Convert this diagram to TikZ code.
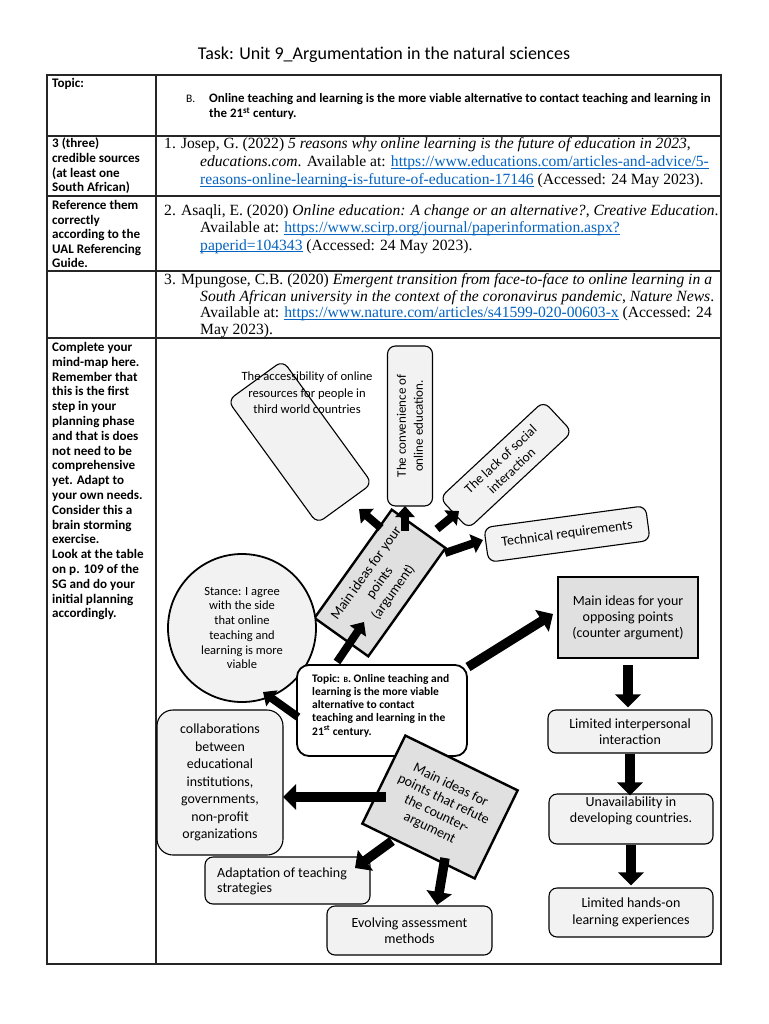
\documentclass[tikz,border=0pt]{standalone}
\usepackage{fontspec}
\setmainfont{Carlito}
\newfontfamily\tnr{Liberation Serif}
\usetikzlibrary{arrows.meta,calc}
\definecolor{lightfill}{HTML}{F2F2F2}
\definecolor{midfill}{HTML}{E0E0E0}
\definecolor{linkblue}{HTML}{0563C1}
\newcommand\lnk[1]{\textcolor{linkblue}{\setbox0\hbox{#1}\rlap{\rule[-1.9pt]{\wd0}{0.7pt}}\box0}}
\newcommand\reff{\tnr\fontsize{15.6}{18}\selectfont}
\newcommand\tl[1]{\begin{tabular}[t]{@{}l@{}}#1\end{tabular}}
\begin{document}
\begin{tikzpicture}[x=1pt,y=-1pt,
 lbox/.style={draw=black, fill=lightfill, line width=1.1pt, rounded corners=8pt, inner sep=0pt, align=center, font=\fontsize{14}{16}\selectfont},
 mbox/.style={draw=black, fill=midfill, line width=2.4pt, inner sep=0pt, align=center, font=\fontsize{14}{16.5}\selectfont},
 txt/.style={inner sep=0pt, align=center},
 ltxt/.style={inner sep=0pt, anchor=base west},
 blk/.style={line width=9.5pt, -{Triangle[width=25pt,length=13pt]}},
 blks/.style={line width=8pt, -{Triangle[width=19pt,length=11pt]}},
 tline/.style={line width=1.2pt, draw=black!85},
 colhead/.style={inner sep=0pt, anchor=base west, font=\bfseries\fontsize{13.1}{14.8}\selectfont},
 refl/.style={inner sep=0pt, anchor=base west, font=\reff}]
\useasboundingbox (0,0) rectangle (768,1024);
\fill[white] (0,0) rectangle (768,1024);
% title
\node[txt, anchor=base, font=\fontsize{18}{21}\selectfont] (title) at (384,60) {Task: Unit 9\_Argumentation in the natural sciences};
% table
\draw[tline] (47,75) rectangle (721,964);
\draw[tline] (156,75) -- (156,964);
\foreach \yy in {136,196,271,338} \draw[tline] (47,\yy) -- (721,\yy);
% left column
\node[colhead] (h1) at (52,88) {Topic:};
\node[colhead] (h2) at (52,147.5) {\tl{3 (three)\\credible sources\\(at least one\\South African)}};
\node[colhead, font=\bfseries\fontsize{13.1}{14.6}\selectfont] (h3) at (52,209.5) {\tl{Reference them\\correctly\\according to the\\UAL Referencing\\Guide.}};
\node[colhead] (h4) at (52,351.5) {\tl{Complete your\\mind-map here.\\Remember that\\this is the first\\step in your\\planning phase\\and that is does\\not need to be\\comprehensive\\yet. Adapt to\\your own needs.\\Consider this a\\brain storming\\exercise.\\Look at the table\\on p. 109 of the\\SG and do your\\initial planning\\accordingly.}};
% topic row
\node[ltxt, font=\fontsize{11.5}{15}\selectfont] (tb) at (186,103) {B.};
\node[ltxt, font=\bfseries\fontsize{12.9}{15}\selectfont] (tt) at (209,103) {\tl{Online teaching and learning is the more viable alternative to contact teaching and learning in\\the 21\textsuperscript{st} century.}};
% references
\node[refl] (r1a) at (164,149) {1. Josep, G. (2022) \textit{5 reasons why online learning is the future of education in 2023},};
\node[refl] (r1b) at (200,167) {\textit{educations.com}. Available at: \lnk{https://www.educations.com/articles-and-advice/5-}};
\node[refl] (r1c) at (200,185) {\lnk{reasons-online-learning-is-future-of-education-17146} (Accessed: 24 May 2023).};
\node[refl] (r2a) at (164,216) {2. Asaqli, E. (2020) \textit{Online education: A change or an alternative?}, \textit{Creative Education}.};
\node[refl] (r2b) at (200,233) {Available at: \lnk{https://www.scirp.org/journal/paperinformation.aspx?}};
\node[refl] (r2c) at (200,250) {\lnk{paperid=104343} (Accessed: 24 May 2023).};
\node[refl] (r3a) at (164,284.5) {3. Mpungose, C.B. (2020) \textit{Emergent transition from face-to-face to online learning in a}};
\node[refl] (r3b) at (200,301) {\textit{South African university in the context of the coronavirus pandemic}, \textit{Nature News}.};
\node[refl] (r3c) at (200,317.5) {Available at: \lnk{https://www.nature.com/articles/s41599-020-00603-x} (Accessed: 24};
\node[refl] (r3d) at (200,334) {May 2023).};
% ---------------- mind map
\node[lbox, rotate=36, minimum width=68pt, minimum height=152pt] (acc) at (300,442) {};
\node[txt, font=\fontsize{12.6}{16.5}\selectfont] (acct) at (307,393) {The accessibility of online\\resources for people in\\third world countries};
\node[lbox, rotate=90, minimum width=160pt, minimum height=45pt, font=\fontsize{13}{17}\selectfont] (conv) at (410,426) {The convenience of\\online education.};
\node[lbox, rotate=43, minimum width=142pt, minimum height=42pt, font=\fontsize{13.5}{16}\selectfont] (lack) at (506,465) {The lack of social\\interaction};
\node[lbox, rotate=7.7, minimum width=163pt, minimum height=35pt] (tech) at (567,534) {Technical requirements};
\node[mbox, rotate=54.5, minimum width=133pt, minimum height=66pt] (arg) at (380,583) {Main ideas for your\\points\\(argument)};
\node[draw=black, fill=lightfill, line width=1.8pt, circle, minimum size=148pt, inner sep=0pt, align=center, font=\fontsize{12.5}{14.7}\selectfont] (stance) at (242,628) {Stance: I agree\\with the side\\that online\\teaching and\\learning is more\\viable};
\node[draw=black, fill=white, line width=1.8pt, rounded corners=12pt, minimum width=170pt, minimum height=91pt, inner sep=0pt] (topic) at (382,710.5) {};
\node[ltxt, font=\bfseries\fontsize{11.5}{13.3}\selectfont] (topict) at (312,682) {\tl{Topic: {\fontsize{8}{9}\selectfont B}. Online teaching and\\learning is the more viable\\alternative to contact\\teaching and learning in the\\21\textsuperscript{st} century.}};
\node[mbox, line width=2.6pt, minimum width=140pt, minimum height=81pt, font=\fontsize{14}{16}\selectfont] (cnt) at (628,617.5) {Main ideas for your\\opposing points\\(counter argument)};
\node[lbox, minimum width=164pt, minimum height=43pt] (lii) at (630,731.5) {Limited interpersonal\\interaction};
\node[lbox, minimum width=164pt, minimum height=50pt] (unav) at (631,819) {};
\node[txt, font=\fontsize{14}{16}\selectfont] (unavt) at (631,811) {Unavailability in\\developing countries.};
\node[lbox, minimum width=164pt, minimum height=49pt, font=\fontsize{14}{17}\selectfont] (lho) at (631,912.5) {Limited hands-on\\learning experiences};
\node[mbox, rotate=-26, minimum width=125pt, minimum height=98pt, font=\fontsize{14}{16}\selectfont] (ref) at (440,807) {Main ideas for\\points that refute\\the counter-\\argument};
\node[lbox, rounded corners=16pt, minimum width=126pt, minimum height=145pt, font=\fontsize{13.9}{17.5}\selectfont] (col) at (220,782.5) {collaborations\\between\\educational\\institutions,\\governments,\\non-profit\\organizations};
\node[lbox, minimum width=165pt, minimum height=47pt] (adp) at (287.5,880.5) {};
\node[ltxt, font=\fontsize{14}{15.6}\selectfont] (adpt) at (217,877) {\tl{Adaptation of teaching\\strategies}};
\node[lbox, minimum width=165pt, minimum height=49pt] (evo) at (409.5,930.5) {Evolving assessment\\methods};
% arrow end points
\coordinate (topicA) at (298,717); \coordinate (stanceA) at (263,692);
\coordinate (topicB) at (337,662); \coordinate (argA) at (364,622);
\coordinate (topicC) at (468,667); \coordinate (cntA) at (553,614);
\coordinate (argD) at (381,528); \coordinate (accA) at (359,509);
\coordinate (argE) at (405,531); \coordinate (convA) at (405,506);
\coordinate (argF) at (437,529); \coordinate (lackA) at (459,511);
\coordinate (argG) at (445,553); \coordinate (techA) at (483,540);
\coordinate (refH) at (386,797); \coordinate (colA) at (283,797);
\coordinate (refI) at (392,841); \coordinate (adpA) at (355,868);
\coordinate (refJ) at (445,858); \coordinate (evoA) at (437,905);
\draw[blks] (topicA) -- (stanceA);
\draw[blks] (topicB) -- (argA);
\draw[blk] (topicC) -- (cntA);
\draw[blks] (argD) -- (accA);
\draw[blks] (argE) -- (convA);
\draw[blks] (argF) -- (lackA);
\draw[blks] (argG) -- (techA);
\draw[blk] (refH) -- (colA);
\draw[blk] (refI) -- (adpA);
\draw[blk] (refJ) -- (evoA);
\draw[blk, shorten <=6pt, shorten >=2pt] (cnt.south) -- (cnt.south |- lii.north);
\draw[blk, shorten >=-2pt] (lii.south) -- (lii.south |- unav.north);
\draw[blk, shorten >=2pt] (unav.south) -- (unav.south |- lho.north);
\end{tikzpicture}
\end{document}
